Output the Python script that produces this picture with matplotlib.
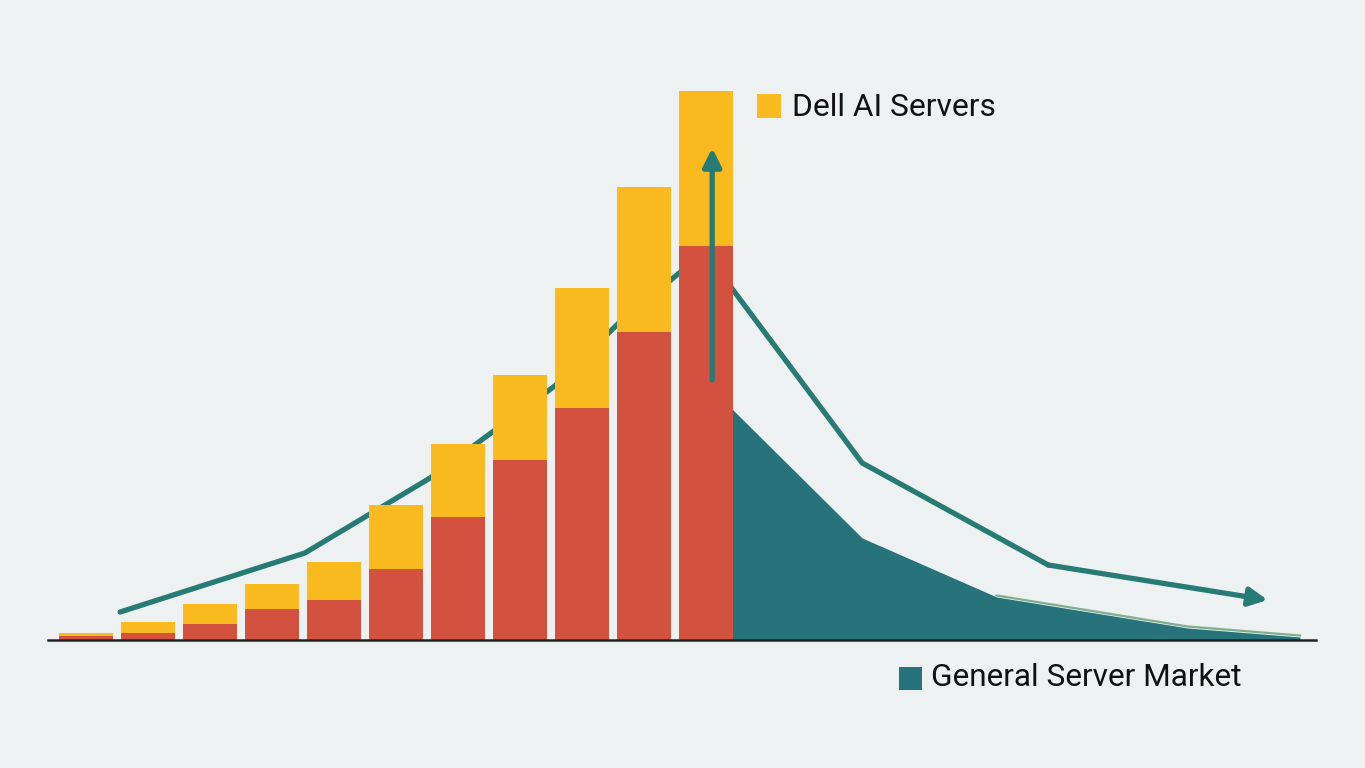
import matplotlib
matplotlib.use("Agg")
import matplotlib.pyplot as plt
from matplotlib.patches import Rectangle

# ---- data ----
bar_pos = list(range(11))
dell_red = [4, 7, 16, 31, 40, 71, 123, 180, 232, 308, 394]      # lower (red) segment
dell_yellow = [3, 11, 20, 25, 38, 64, 73, 85, 120, 145, 155]    # upper (yellow) segment

area_x = [10.42, 10.42, 12.52, 14.69, 17.77, 19.58]
area_y = [0, 231, 102, 43, 12, 3]

trend_x = [0.55, 3.53, 5.55, 7.56, 8.61, 9.98, 12.52, 15.52, 19.06]
trend_y = [28, 87, 162, 254, 318, 388, 177, 75, 40]

up_arrow_x = 10.1
up_arrow_y = [260, 492]

legend_labels = ["Dell AI Servers", "General Server Market"]

# ---- style ----
BG = "#eef1f1"
YEL = "#f8ba1f"
RED = "#d3513f"
TEAL = "#27737b"
LINE = "#267b74"

fig = plt.figure(figsize=(13.65, 7.68), dpi=100, facecolor=BG)
ax = fig.add_axes([0, 0, 1, 1])
ax.set_facecolor(BG)
ax.set_xlim(-1.387, 20.63)
ax.set_ylim(-128, 640)
ax.axis("off")

head = "-|>,head_length=1.1,head_width=0.55"

# trend line (behind bars)
ax.plot(trend_x[:-1], trend_y[:-1], color=LINE, lw=3.8, zorder=1,
        solid_joinstyle="round", solid_capstyle="round")
ax.annotate("", xy=(trend_x[-1], trend_y[-1]), xytext=(trend_x[-2], trend_y[-2]),
            arrowprops=dict(arrowstyle=head, color=LINE, lw=3.8,
                            shrinkA=0, shrinkB=0), zorder=1)

# area
ax.fill_between(area_x, area_y, 0, color=TEAL, lw=0, zorder=2)
ax.plot(area_x[3:], [v + 1.5 for v in area_y[3:]], color="#7fae8c", lw=1.6, zorder=2)

# stacked bars
ax.bar(bar_pos, dell_red, width=0.86, color=RED, lw=0, zorder=3)
ax.bar(bar_pos, dell_yellow, bottom=dell_red, width=0.86, color=YEL, lw=0, zorder=3)

# vertical arrow
ax.annotate("", xy=(up_arrow_x, up_arrow_y[1]), xytext=(up_arrow_x, up_arrow_y[0]),
            arrowprops=dict(arrowstyle=head, color=LINE, lw=3.8,
                            shrinkA=0, shrinkB=0), zorder=5)

# baseline
ax.plot([-0.613, 19.84], [0, 0], color="#1e2424", lw=1.8, zorder=4)

# legend entries
fig.patches.append(Rectangle((757 / 1365, 1 - 118 / 768), 24 / 1365, 24 / 768,
                             transform=fig.transFigure, color=YEL, lw=0))
fig.text(792 / 1365, 1 - 107 / 768, legend_labels[0], fontsize=22.9, family="Roboto",
         va="center", ha="left", color="#111111")
fig.patches.append(Rectangle((899 / 1365, 1 - 690 / 768), 23 / 1365, 23 / 768,
                             transform=fig.transFigure, color=TEAL, lw=0))
fig.text(931 / 1365, 1 - 678 / 768, legend_labels[1], fontsize=22.8, family="Roboto",
         va="center", ha="left", color="#111111")

fig.savefig("out.png", dpi=100, facecolor=BG)
